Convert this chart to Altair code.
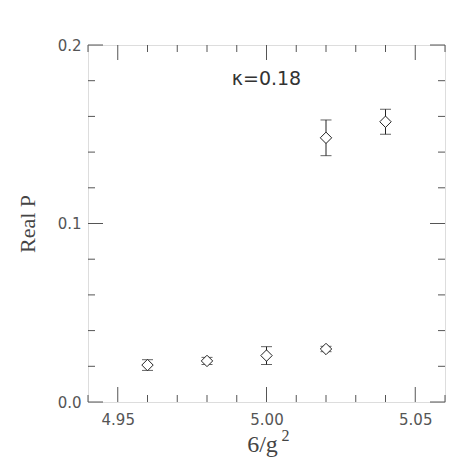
import altair as alt
import pandas as pd

# data
beta = [4.96, 4.98, 5.00, 5.02, 5.02, 5.04]
realp = [0.0207, 0.0230, 0.0260, 0.0297, 0.148, 0.157]
err = [0.003, 0.002, 0.005, 0.0015, 0.010, 0.007]

x_major = [4.95, 5.00, 5.05]
x_minor = [4.94, 4.96, 4.97, 4.98, 4.99, 5.01, 5.02, 5.03, 5.04, 5.06]
y_major = [0.0, 0.1, 0.2]
y_minor = [0.02, 0.04, 0.06, 0.08, 0.12, 0.14, 0.16, 0.18]

W = 357
H = 357

df = pd.DataFrame({"x": beta, "y": realp, "e": err})
df["lo"] = df["y"] - df["e"]
df["hi"] = df["y"] + df["e"]

xs = alt.Scale(domain=[4.94, 5.06], nice=False, zero=False)
ys = alt.Scale(domain=[0.0, 0.2], nice=False, zero=False)

xaxis = alt.Axis(values=x_major, format=".2f", tickSize=0, domain=False, grid=False,
                 labelFont="DejaVu Sans", labelFontSize=15, labelColor="#555",
                 labelPadding=10, title=None)
yaxis = alt.Axis(values=y_major, format=".1f", tickSize=0, domain=False, grid=False,
                 labelFont="DejaVu Sans", labelFontSize=15, labelColor="#555",
                 labelPadding=7, title="Real P", titleFont="Liberation Serif",
                 titleFontSize=22, titleFontWeight="normal", titleColor="#444", titlePadding=18)

base = alt.Chart(df)

bars = base.mark_rule(color="#222", strokeWidth=1).encode(
    x=alt.X("x:Q", scale=xs, axis=xaxis),
    y=alt.Y("lo:Q", scale=ys, axis=yaxis),
    y2="hi:Q",
)
cap_lo = base.mark_tick(orient="horizontal", color="#222", size=11, thickness=1).encode(
    x=alt.X("x:Q", scale=xs), y=alt.Y("lo:Q", scale=ys))
cap_hi = base.mark_tick(orient="horizontal", color="#222", size=11, thickness=1).encode(
    x=alt.X("x:Q", scale=xs), y=alt.Y("hi:Q", scale=ys))
pts = base.mark_point(shape="M0,-1L1,0L0,1L-1,0Z", size=130, color="#222",
                      fill="white", filled=False, strokeWidth=1, opacity=1).encode(
    x=alt.X("x:Q", scale=xs), y=alt.Y("y:Q", scale=ys))

def xticks(vals, length):
    d = pd.DataFrame({"x": vals})
    bot = alt.Chart(d).mark_rule(color="#555", strokeWidth=1).encode(
        x=alt.X("x:Q", scale=xs), y=alt.value(H), y2=alt.value(H - length))
    top = alt.Chart(d).mark_rule(color="#555", strokeWidth=1).encode(
        x=alt.X("x:Q", scale=xs), y=alt.value(0), y2=alt.value(length))
    return bot + top

def yticks(vals, length):
    d = pd.DataFrame({"y": vals})
    left = alt.Chart(d).mark_rule(color="#555", strokeWidth=1).encode(
        y=alt.Y("y:Q", scale=ys), x=alt.value(0), x2=alt.value(length))
    right = alt.Chart(d).mark_rule(color="#555", strokeWidth=1).encode(
        y=alt.Y("y:Q", scale=ys), x=alt.value(W), x2=alt.value(W - length))
    return left + right

label_df = pd.DataFrame({"x": [5.00], "y": [0.181], "t": ["κ=0.18"]})
label = alt.Chart(label_df).mark_text(font="DejaVu Sans", fontSize=19, color="#333").encode(
    x=alt.X("x:Q", scale=xs), y=alt.Y("y:Q", scale=ys), text="t:N")

# x axis title "6/g" with superscript 2
xt = alt.Chart(pd.DataFrame({"t": ["6/g"]})).mark_text(
    font="Liberation Serif", fontSize=24, color="#444", align="center", baseline="alphabetic"
).encode(x=alt.value(W / 2 - 4), y=alt.value(H + 50), text="t:N")
xt2 = alt.Chart(pd.DataFrame({"t": ["2"]})).mark_text(
    font="Liberation Serif", fontSize=16, color="#444", align="left", baseline="alphabetic"
).encode(x=alt.value(W / 2 + 15), y=alt.value(H + 39), text="t:N")

chart = alt.layer(
    xticks(x_major, 15), xticks(x_minor, 7), yticks(y_major, 15), yticks(y_minor, 7),
    bars, cap_lo, cap_hi, pts, label, xt, xt2
).properties(
    width=W, height=H,
    autosize=alt.AutoSizeParams(type="none"),
    padding={"left": 80, "top": 37, "right": 21, "bottom": 64},
).configure_view(stroke="#555", strokeWidth=1).configure(background="white")

chart.save("out.html", embed_options={"renderer": "svg", "actions": False})
